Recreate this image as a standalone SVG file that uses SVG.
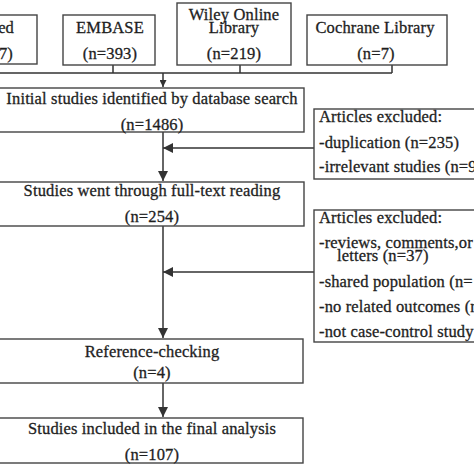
<svg xmlns="http://www.w3.org/2000/svg" width="474" height="474" viewBox="0 0 474 474">
<defs>
<style>
rect{fill:#fff;stroke:#444;stroke-width:1.4}
text{font-family:"Liberation Serif","Times New Roman",serif;font-size:16.5px;letter-spacing:0.15px;fill:#1e1e1e;stroke:#1e1e1e;stroke-width:0.3}
.c{text-anchor:middle}
.ln{stroke:#333;stroke-width:1.5;fill:none}
</style>
<marker id="ah" viewBox="0 0 10 10" refX="10" refY="5" markerWidth="8" markerHeight="7" markerUnits="userSpaceOnUse" orient="auto"><path d="M0,0L10,5L0,10z" fill="#333"/></marker>
<marker id="ahb" viewBox="0 0 10 10" refX="10" refY="5" markerWidth="13" markerHeight="10" markerUnits="userSpaceOnUse" orient="auto"><path d="M0,0L10,5L0,10z" fill="#333"/></marker>
</defs>
<rect x="0" y="0" width="474" height="474" style="fill:#fff;stroke:none"/>
<g id="connectors">
<path class="ln" d="M0,73H392M113,65V73M240,65V73M392,65V73"/>
<path class="ln" d="M163,73V87" marker-end="url(#ah)"/>
<path class="ln" d="M163,132V181" marker-end="url(#ahb)"/>
<path class="ln" d="M314,148H163" marker-end="url(#ahb)"/>
<path class="ln" d="M163,226V338" marker-end="url(#ahb)"/>
<path class="ln" d="M314,272H163" marker-end="url(#ahb)"/>
<path class="ln" d="M163,383V417" marker-end="url(#ahb)"/>
</g>
<g id="pubmed"><rect x="-10" y="15" width="47" height="49"/><text x="14" y="33" style="text-anchor:end">ed</text><text x="13" y="59" style="text-anchor:end">7)</text></g>
<g id="embase"><rect x="63" y="15" width="92" height="50"/><text class="c" x="110" y="33">EMBASE</text><text class="c" x="110" y="59">(n=393)</text></g>
<g id="wiley"><rect x="177" y="3" width="114" height="62"/><text class="c" x="234" y="20">Wiley Online</text><text class="c" x="234" y="33">Library</text><text class="c" x="234" y="59">(n=219)</text></g>
<g id="cochrane"><rect x="307" y="15" width="140" height="50"/><text class="c" x="375" y="33">Cochrane Library</text><text class="c" x="376" y="59">(n=7)</text></g>
<g id="initial"><rect x="-1" y="88" width="305" height="44"/><text class="c" x="152" y="104">Initial studies identified by database search</text><text class="c" x="152" y="130">(n=1486)</text></g>
<g id="excluded1"><rect x="314" y="109" width="170" height="70"/><text x="319" y="122">Articles excluded:</text><text x="319" y="148">-duplication (n=235)</text><text x="319" y="172">-irrelevant studies (n=9</text></g>
<g id="fulltext"><rect x="-1" y="182" width="305" height="44"/><text class="c" x="152" y="196">Studies went through full-text reading</text><text class="c" x="152" y="222">(n=254)</text></g>
<g id="excluded2"><rect x="314" y="210" width="170" height="132"/><text x="319" y="223">Articles excluded:</text><text x="319" y="248">-reviews, comments,or</text><text x="337" y="261">letters (n=37)</text><text x="319" y="287">-shared population (n=</text><text x="319" y="312">-no related outcomes (n</text><text x="319" y="337">-not case-control study</text></g>
<g id="refcheck"><rect x="-1" y="339" width="304" height="44"/><text class="c" x="152" y="357">Reference-checking</text><text class="c" x="152" y="378">(n=4)</text></g>
<g id="included"><rect x="-1" y="418" width="304" height="45"/><text class="c" x="152" y="434">Studies included in the final analysis</text><text class="c" x="152" y="460">(n=107)</text></g>
</svg>
